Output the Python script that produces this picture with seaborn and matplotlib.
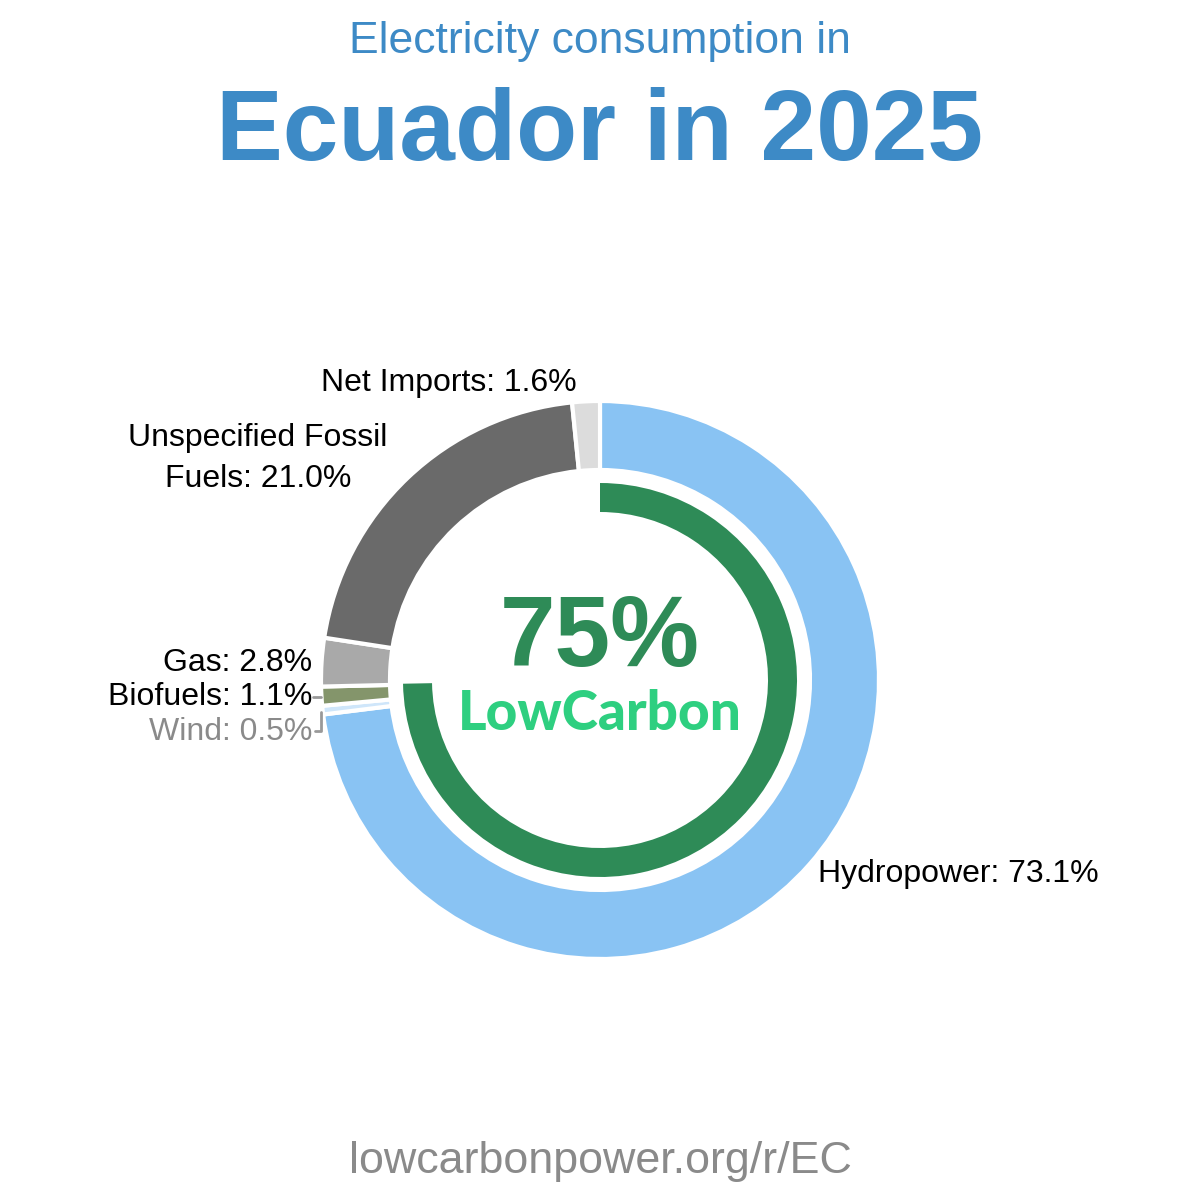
import numpy as np
import seaborn as sns
import matplotlib.pyplot as plt

# data
sources = ['Hydropower', 'Wind', 'Biofuels', 'Gas', 'Unspecified Fossil Fuels', 'Net Imports']
shares = [73.1, 0.5, 1.1, 2.8, 21.0, 1.6]
colors = ['#89c3f3', '#cfe6fa', '#84956b', '#a9a9a9', '#6a6a6a', '#dcdcdc']
low_carbon = [74.7, 25.3]

sns.set_theme(style='white')
plt.rcParams['font.family'] = ['Liberation Sans', 'DejaVu Sans']

fig = plt.figure(figsize=(12, 12), dpi=100)
ax = fig.add_axes([0, 0, 1, 1])

cx, cy = 600, 680
# outer ring
ax.pie(shares, colors=colors, radius=279, center=(cx, 1200 - cy), startangle=90,
       counterclock=False, wedgeprops=dict(width=69, edgecolor='white', linewidth=3),
       frame=True)

# inner low carbon ring
ax.pie(low_carbon, colors=['#2e8b57', 'none'], radius=197, center=(cx, 1200 - cy),
       startangle=90, counterclock=False, wedgeprops=dict(width=29, linewidth=0),
       frame=True)
ax.set_xlim(0, 1200)
ax.set_ylim(0, 1200)
ax.set_aspect('equal')
ax.axis('off')

def Y(y):
    return 1200 - y

fs = 23
ax.text(449, Y(383), 'Net Imports: 1.6%', ha='center', va='center', fontsize=fs, color='black')
ax.text(258, Y(438), 'Unspecified Fossil', ha='center', va='center', fontsize=fs, color='black')
ax.text(258, Y(479), 'Fuels: 21.0%', ha='center', va='center', fontsize=fs, color='black')
ax.text(312, Y(663), 'Gas: 2.8%', ha='right', va='center', fontsize=fs, color='black')
ax.text(312, Y(697), 'Biofuels: 1.1%', ha='right', va='center', fontsize=fs, color='black')
ax.text(312, Y(732), 'Wind: 0.5%', ha='right', va='center', fontsize=fs, color='#8a8a8a')
ax.text(818, Y(874), 'Hydropower: 73.1%', ha='left', va='center', fontsize=fs, color='black')

# small leader lines for the thin slices
ax.plot([313, 321], [Y(697), Y(697)], color='#999999', lw=2)
ax.plot([315, 321, 321], [Y(731), Y(731), Y(712)], color='#999999', lw=2)

# titles
ax.text(600, Y(42), 'Electricity consumption in', ha='center', va='center',
        fontsize=32, color='#3d8ac6')
ax.text(600, Y(134), 'Ecuador in 2025', ha='center', va='center',
        fontsize=72, fontweight='bold', color='#3d8ac6')

# center
ax.text(600, Y(640), '75%', ha='center', va='center', fontsize=72,
        fontweight='bold', color='#2e8b57')
ax.text(600, Y(714), 'LowCarbon', ha='center', va='center', fontsize=39.5,
        fontweight='black', color='#2ecf80', family=['Lato', 'DejaVu Sans'])

ax.text(600, Y(1161), 'lowcarbonpower.org/r/EC', ha='center', va='center',
        fontsize=32.3, color='#8a8a8a')

fig.savefig('out.png', dpi=100, facecolor='white')
